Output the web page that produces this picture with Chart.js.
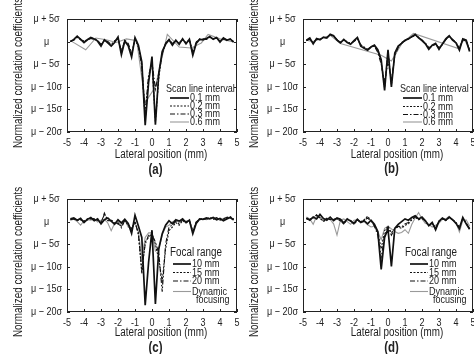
<!DOCTYPE html>
<html><head><meta charset="utf-8">
<script src="https://cdn.jsdelivr.net/npm/chart.js@4.4.1/dist/chart.umd.min.js"></script>
<style>
html,body{margin:0;padding:0;background:#fff;}
#wrap{position:relative;width:474px;height:354px;overflow:hidden;background:#fff;}
canvas{position:absolute;left:0;top:0;}
</style></head><body>
<div id="wrap">
<canvas id="ca" width="474" height="354"></canvas>
<canvas id="cb" width="474" height="354"></canvas>
<canvas id="cc" width="474" height="354"></canvas>
<canvas id="cd" width="474" height="354"></canvas>
</div>
<script>
// ---------- data ----------
const xGrid = [-4.8,-4.6,-4.4,-4.2,-4.0,-3.8,-3.6,-3.4,-3.2,-3.0,-2.8,-2.6,-2.4,-2.2,-2.0,-1.8,-1.6,-1.4,-1.2,-1.0,-0.8,-0.6,-0.4,-0.2,0,0.2,0.4,0.6,0.8,1.0,1.2,1.4,1.6,1.8,2.0,2.2,2.4,2.6,2.8,3.0,3.2,3.4,3.6,3.8,4.0,4.2,4.4,4.6,4.8];

// (a) scan line interval
const a01 = [0,0.5,1.2,0.5,-0.2,0.4,0.9,0.6,0.1,-1.0,0.4,-0.3,-1.0,-0.2,1.0,-2.9,0.1,-0.9,-3.4,0.9,-0.8,-4.5,-18.5,-9,-3.3,-18.4,-7,-2.2,-0.6,0.4,-0.8,0.3,-0.6,0.6,-0.5,0.5,-3.0,-0.4,0.5,0.4,0.7,1.1,0.5,0.9,-0.1,0.8,0.3,0.6,-0.1];
const a02 = [0,0.4,1.0,0.6,0,0.5,0.8,0.7,0.2,-0.8,0.3,-0.1,-0.8,0,0.8,-2.4,0.2,-0.6,-3.0,0.6,-1.0,-5,-17.5,-8,-4.5,-17.8,-8,-2.5,-0.5,0.6,-0.6,0.2,-0.4,0.5,-0.3,0.4,-2.6,-0.2,0.6,0.5,0.6,1.0,0.6,0.8,0,0.7,0.4,0.5,0];
const a03 = [0.1,0.3,0.9,0.4,0.1,0.3,0.7,0.5,0.3,-0.6,0.2,0,-0.6,0.2,0.6,-2.0,0.3,-0.4,-2.6,0.4,-1.2,-5.5,-15.5,-7.5,-4.5,-10.5,-7,-2.8,-0.3,0.5,-0.4,0.1,-0.2,0.4,-0.2,0.3,-2.2,-0.1,0.5,0.6,0.5,0.9,0.7,0.8,0.1,0.6,0.5,0.4,0];
const aX06 = [-4.7,-3.9,-3.3,-2.7,-2.1,-1.5,-0.9,-0.4,0.2,0.9,1.6,2.3,2.9,3.3,4.0,4.8];
const a06 = [0,-1.8,0.8,0.4,-0.2,0.6,0.2,-13.5,-10,1.6,-1.2,-1.4,-0.3,1.6,0.6,-0.1];

// (b) scan line interval
const b01 = [0.3,0.8,-0.5,0.7,0.4,1.0,0.8,1.6,1.3,0.3,-0.3,0.5,-0.2,-0.6,0.2,0.9,-1.0,-1.5,-1.9,-1.2,-0.8,-1.8,-4.0,-10.8,-1.8,-10.0,-2.5,-1.0,-0.4,0.3,0.6,1.1,1.6,0.8,0.2,-0.5,-1.7,-0.8,-0.4,-1.7,-0.5,0.6,1.3,0.3,-0.3,-1.9,0.6,0.3,-2.2];
const b02 = [0.2,0.6,-0.3,0.6,0.5,0.9,0.9,1.5,1.2,0.4,-0.2,0.4,-0.1,-0.5,0.1,0.7,-0.8,-1.3,-1.8,-1.1,-0.9,-2.0,-4.5,-10.3,-2.2,-9.6,-2.8,-1.1,-0.3,0.2,0.7,1.0,1.5,0.9,0.3,-0.4,-1.5,-0.9,-0.5,-1.5,-0.6,0.5,1.2,0.4,-0.2,-1.7,0.5,0.2,-2.0];
const b03 = [0.3,0.5,-0.2,0.5,0.5,0.8,0.9,1.4,1.2,0.5,-0.1,0.3,0,-0.4,0,0.6,-0.7,-1.2,-1.7,-1.2,-1.0,-2.4,-5.0,-9.0,-4.4,-8.5,-3.2,-1.3,-0.2,0.2,0.6,1.0,1.4,1.0,0.4,-0.3,-1.3,-1.0,-0.6,-1.3,-0.7,0.4,1.1,0.5,-0.1,-1.5,0.4,0.1,-1.8];
const bX06 = [-4.8,-4.4,-4.0,-3.4,-2.8,-0.4,0.2,0.8,1.5,4.1,4.5,4.8];
const b06 = [0.3,0.0,0.6,1.4,-0.4,-3.0,-4.3,-0.5,1.8,-1.5,0.5,-2.0];

// (c) focal range
const c10 = [0.6,0.8,0.3,0.7,-0.2,0.5,0.9,0.2,0.6,-0.5,0.4,0.8,0.1,-0.6,0.4,-0.3,0.5,-0.4,-2.6,1.4,-1.0,-3.5,-18.5,-9,-1.9,-18.2,-6,-2.7,-0.8,0.2,-0.5,0.4,0.1,0.6,-0.2,0.3,-2.7,-0.4,0.6,0.5,0.8,0.6,0.9,0.4,0.7,0.2,0.6,0.9,0.4];
const c15 = [0.5,0.7,0.2,0.4,0.1,0.6,0.6,0.5,0.3,-0.2,1.6,0.3,0.4,-0.3,-0.5,-1.0,0.2,-0.8,-1.5,-0.2,-2.5,-11.5,-4.5,-3.5,-2.5,-5,-8.5,-13.2,-6,-2.0,-1.2,-0.2,-0.8,0.2,-0.3,0.1,-2.0,-0.2,0.4,0.6,0.5,0.9,0.5,0.7,0.3,0.5,0.8,1.0,0.5];
const c20 = [0.4,0.6,0.4,0.5,0.0,0.4,0.7,0.6,0.4,-0.4,1.9,0.2,0.2,-0.5,-0.3,-1.4,0.3,-0.6,-1.8,0.1,-3.0,-10.5,-5,-3.0,-3.0,-4.5,-7,-15.5,-5,-1.2,-0.8,0.1,-0.5,0.4,-0.1,0.2,-2.3,-0.1,0.5,0.7,0.6,0.8,0.6,0.9,0.4,0.6,0.9,1.1,0.6];
const cDyn = [0.3,0.5,0.0,-0.8,0.2,0.4,0.3,0.6,-0.1,0.3,0.5,-0.3,-2.0,-0.4,0.0,-0.9,0.4,-1.2,-1.6,-0.2,-2.2,-8.0,-3.5,-2.5,-2.5,-6.5,-6.0,-3.0,-1.2,-0.8,0.0,0.3,-0.2,0.4,0.1,0.2,-2.2,0.0,0.4,0.6,0.4,0.7,0.8,0.5,0.4,0.7,1.0,0.8,0.3];

// (d) focal range
const d10 = [0.8,0.3,1.0,0.6,1.6,0.7,0.3,1.0,0.2,0.8,0.5,-0.3,0.6,0.1,-0.4,0.5,-0.2,0.2,-0.5,0.3,-0.6,-2.2,-10.6,-3.5,-1.6,-9.9,-1.5,-0.6,0.0,0.6,0.3,0.9,1.3,0.6,1.0,0.2,-0.9,-0.2,-1.8,0.1,0.8,0.3,1.0,0.4,-0.4,-1.6,0.9,-0.5,-1.7];
const d15 = [0.6,0.5,0.8,1.4,0.8,0.0,0.6,0.5,0.4,0.6,0.2,-0.5,0.4,0.3,-0.6,0.3,0.0,0.4,1.2,0.2,-0.8,-2.5,-6.0,-2.0,-1.0,-2.5,-1.5,-1.2,-1.5,-0.8,-0.5,0.4,1.0,0.4,0.8,0.1,-0.8,-0.4,-1.5,0.0,0.6,0.2,0.9,0.5,-0.2,-1.2,0.7,-0.3,-1.5];
const d20 = [0.7,0.4,0.9,1.5,0.7,0.1,0.7,0.4,0.5,0.7,0.1,-0.4,0.5,0.2,-0.5,0.4,-0.1,0.3,0.8,0.1,-1.0,-3.0,-8.0,-3.0,-1.2,-3.0,-1.6,-1.0,-1.2,-0.5,-0.2,0.5,1.1,0.5,0.7,0.2,-0.9,-0.3,-1.4,0.1,0.7,0.3,1.0,0.4,-0.3,-1.4,0.8,-0.4,-1.6];
const dDyn = [1.0,0.6,-0.6,1.2,1.0,0.4,0.8,0.5,-0.5,-3.0,0.3,0.6,0.0,-0.6,0.3,0.4,-0.2,0.0,-0.7,-1.2,-1.0,-2.2,-4.0,-1.5,-1.0,-1.6,-2.2,-2.6,-2.4,-1.8,-2.6,-0.6,0.8,2.0,0.6,-0.4,-0.6,-1.2,-0.8,-0.3,0.5,0.6,1.2,0.4,-0.2,-2.3,0.2,0.4,-1.0];

// labels
const scanLabels = ['0.1 mm','0.2 mm','0.3 mm','0.6 mm'];
const focalLabels = ['10 mm','15 mm','20 mm',['Dynamic','focusing']];
const yTickValues = [5,0,-5,-10,-15,-20];
const yTickLabels = ['\u03bc + 5\u03c3','\u03bc','\u03bc \u2212 5\u03c3','\u03bc \u2212 10\u03c3','\u03bc \u2212 15\u03c3','\u03bc \u2212 20\u03c3'];
const xTickValues = [-5,-4,-3,-2,-1,0,1,2,3,4,5];
const xTickLabels = ['-5','-4','-3','-2','-1','0','1','2','3','4','5'];
const yTitle = 'Normalized correlation coefficients';
const xTitle = 'Lateral position (mm)';
const panelNames = ['(a)','(b)','(c)','(d)'];

// ---------- drawing ----------
const FONT = "'Liberation Sans',Arial,Helvetica,sans-serif";
const SX = 0.82;          // narrow (condensed) text like Helvetica Narrow
const TXT = '#222';
const pts = (xs, ys) => xs.map((x, i) => ({x: x, y: ys[i]}));
const STY = [
  {borderColor:'#111', borderWidth:1.7, borderDash:[]},
  {borderColor:'#111', borderWidth:1.1, borderDash:[2,1.5]},
  {borderColor:'#111', borderWidth:1.1, borderDash:[5,2,1.5,2]},
  {borderColor:'#9a9a9a', borderWidth:1.1, borderDash:[]}
];

function sText(ctx, str, x, y, align, size, bold, rot) {
  ctx.save();
  ctx.font = (bold ? 'bold ' : '') + size + 'px ' + FONT;
  ctx.fillStyle = TXT;
  ctx.translate(x, y);
  if (rot) ctx.rotate(rot);
  ctx.scale(SX, 1);
  ctx.textAlign = align; ctx.textBaseline = 'middle';
  ctx.fillText(str, 0, 0);
  ctx.restore();
}

function makePanel(id, name, box, series, labels, leg) {
  const W = 55, H = 40;
  const datasets = series.map((s, i) => Object.assign({
    label: [].concat(labels[i]).join(' '),
    data: pts(s[0], s[1]),
    pointRadius: 0, tension: 0, fill: false
  }, STY[i]));
  const frame = {
    id: 'frame' + id,
    afterDatasetsDraw(chart) {
      const {ctx, chartArea: a, scales: {x, y}} = chart;
      ctx.save();
      ctx.strokeStyle = '#222'; ctx.lineWidth = 1;
      ctx.strokeRect(a.left + 0.5, a.top + 0.5, a.right - a.left - 1, a.bottom - a.top - 1);
      ctx.beginPath();
      xTickValues.forEach(v => {
        const p = Math.round(x.getPixelForValue(v)) + 0.5;
        ctx.moveTo(p, a.top); ctx.lineTo(p, a.top + 3);
        ctx.moveTo(p, a.bottom); ctx.lineTo(p, a.bottom - 3);
      });
      yTickValues.forEach(v => {
        const p = Math.round(y.getPixelForValue(v)) + 0.5;
        ctx.moveTo(a.left, p); ctx.lineTo(a.left + 3, p);
        ctx.moveTo(a.right, p); ctx.lineTo(a.right - 3, p);
      });
      ctx.stroke();
      ctx.restore();
    }
  };
  const texts = {
    id: 'texts' + id,
    afterDraw(chart) {
      const {ctx, chartArea: a, scales: {x, y}} = chart;
      yTickValues.forEach((v, i) => sText(ctx, yTickLabels[i], a.left - 20.5, y.getPixelForValue(v), 'center', 11));
      xTickValues.forEach((v, i) => sText(ctx, xTickLabels[i], x.getPixelForValue(v), a.bottom + 10.5, 'center', 11));
      const cx = (a.left + a.right) / 2;
      sText(ctx, yTitle, a.left - 48, box.ytY, 'center', 12, false, -Math.PI / 2);
      sText(ctx, xTitle, cx + 9, a.bottom + box.xtDy, 'center', 12);
      sText(ctx, name, cx + 3.5, a.bottom + box.plDy, 'center', 14, true);
      // legend
      sText(ctx, leg.title, leg.titleX, leg.titleY, 'left', leg.titleSize);
      chart.data.datasets.forEach((ds, i) => {
        const yy = leg.rows[i];
        ctx.save();
        ctx.strokeStyle = ds.borderColor; ctx.lineWidth = ds.borderWidth;
        ctx.setLineDash(ds.borderDash || []);
        ctx.beginPath(); ctx.moveTo(leg.x0, yy); ctx.lineTo(leg.x1, yy); ctx.stroke();
        ctx.restore();
        [].concat(labels[i]).forEach((t, k) => {
          sText(ctx, t, leg.labelX + (k ? (leg.indent || 0) : 0), yy + k * (leg.lh || 9), 'left', leg.size);
        });
      });
    }
  };
  return new Chart(document.getElementById(id), {
    type: 'line',
    data: {datasets: datasets},
    options: {
      responsive: false, animation: false, devicePixelRatio: 1,
      layout: {padding: {left: box.l - W, top: box.t, right: 474 - box.r, bottom: 354 - box.b - H}},
      plugins: {legend: {display: false}, tooltip: {enabled: false}, title: {display: false}},
      scales: {
        x: {
          type: 'linear', min: -5, max: 5,
          grid: {display: false, drawTicks: false}, border: {display: false},
          ticks: {display: false, stepSize: 1},
          afterFit: s => { s.height = H; s.paddingLeft = 0; s.paddingRight = 0; }
        },
        y: {
          min: -20, max: 5,
          grid: {display: false, drawTicks: false}, border: {display: false},
          ticks: {display: false, stepSize: 5},
          afterFit: s => { s.width = W; s.paddingTop = 0; s.paddingBottom = 0; }
        }
      }
    },
    plugins: [frame, texts]
  });
}

makePanel('ca', panelNames[0], {l:67, t:19, r:237, b:132, ytY:73, xtDy:23, plDy:38.5},
  [[xGrid,a01],[xGrid,a02],[xGrid,a03],[aX06,a06]], scanLabels,
  {title:'Scan line interval', titleX:166, titleY:89, titleSize:11, rows:[98,106,114,122], x0:170, x1:189, labelX:190, size:11});
makePanel('cb', panelNames[1], {l:303, t:19, r:473, b:132, ytY:73, xtDy:23, plDy:37},
  [[xGrid,b01],[xGrid,b02],[xGrid,b03],[bX06,b06]], scanLabels,
  {title:'Scan line interval', titleX:400, titleY:89, titleSize:11, rows:[98,106.5,114.5,122], x0:403, x1:422, labelX:423, size:11});
makePanel('cc', panelNames[2], {l:67, t:199, r:237, b:312, ytY:262, xtDy:21, plDy:36},
  [[xGrid,c10],[xGrid,c15],[xGrid,c20],[xGrid,cDyn]], focalLabels,
  {title:'Focal range', titleX:170, titleY:253, titleSize:12, rows:[264,272.5,281,291.5], x0:173, x1:191, labelX:192, size:11, indent:4, lh:8.8});
makePanel('cd', panelNames[3], {l:303, t:199, r:473, b:312, ytY:262, xtDy:21, plDy:36},
  [[xGrid,d10],[xGrid,d15],[xGrid,d20],[xGrid,dDyn]], focalLabels,
  {title:'Focal range', titleX:405, titleY:253, titleSize:12, rows:[264,272.5,281,291.5], x0:410, x1:428, labelX:429, size:11, indent:4, lh:8.8});
</script>
</body></html>
